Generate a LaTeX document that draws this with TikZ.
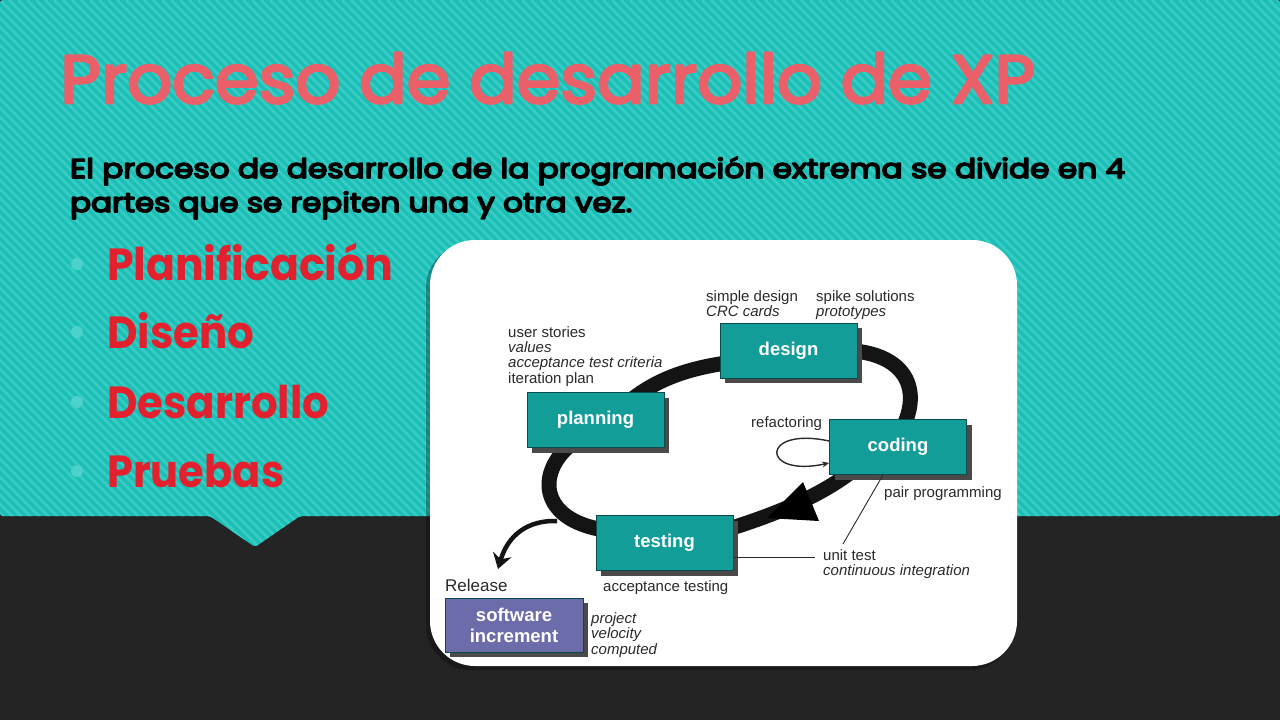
\documentclass[tikz,border=0pt]{standalone}
\usepackage{fontspec}
\setmainfont{Liberation Sans}
\newfontfamily\gothic{Poppins}
\usetikzlibrary{shadows,arrows.meta}
\definecolor{slideteal}{HTML}{1CBFB6}
\definecolor{stripec}{HTML}{38CCC4}
\definecolor{darkbg}{HTML}{242424}
\definecolor{titlec}{HTML}{EB5F69}
\definecolor{bulletc}{HTML}{E2202E}
\definecolor{dotc}{HTML}{4CD2CA}
\definecolor{boxteal}{HTML}{139D99}
\definecolor{boxline}{HTML}{0C4B49}
\definecolor{boxshadow}{HTML}{4A4A4A}
\definecolor{purplebox}{HTML}{6C6CAA}
\definecolor{lblc}{HTML}{2A2A2A}
\newlength\fitlen
\newcommand\fitw[2]{\settowidth\fitlen{#2}\pgfmathsetmacro\fitf{#1/\fitlen}\scalebox{\fitf}[1]{#2}}
\newcommand\strk[2]{\special{pdf:literal direct #1 w 1 j 2 Tr}#2\special{pdf:literal direct 0 Tr}}
\begin{document}
\begin{tikzpicture}[x=1pt,y=-1pt,
  proc/.style={draw=boxline, line width=0.8pt, fill=boxteal, text=white,
    font=\bfseries\fontsize{18.5}{18.5}\selectfont, minimum width=137pt, minimum height=55pt, inner sep=0pt,
    drop shadow={shadow xshift=5pt, shadow yshift=-5pt, fill=boxshadow, opacity=1}},
  lbl/.style={anchor=base west, inner sep=0pt, font=\fontsize{15}{15}\selectfont, text=lblc},
  ilbl/.style={lbl, font=\itshape\fontsize{15}{15}\selectfont},
  band/.style={line width=15pt, black!92},
  thin/.style={line width=0.9pt, lblc},
  stripe/.style={stripec, line width=2.6pt},
  titlefont/.style={font=\gothic\fontsize{68}{68}\selectfont},
  subfont/.style={font=\gothic\fontsize{27}{27}\selectfont},
  bulletfont/.style={font=\gothic\bfseries\fontsize{45}{45}\selectfont},
]
\useasboundingbox (0,0) rectangle (1280,720);
% background
\fill[darkbg] (0,0) rectangle (1280,720);
\begin{scope}
  \clip[rounded corners=3pt] (0,0) -- (1280,0) -- (1280,516) -- (300,516) -- (255,547) -- (210,516) -- (0,516) -- cycle;
  \fill[slideteal] (0,0) rectangle (1280,720);
  \foreach \i in {-82,...,143} \draw[stripe] (\i*9,0) -- ++(720,720);
\end{scope}
% title
\node[titlefont, anchor=base west, inner sep=0pt, text=titlec] (title) at (60,103) {\strk{2.6}{\fitw{975pt}{Proceso de desarrollo de XP}}};
% subtitle
\node[subfont, anchor=base west, inner sep=0pt, text=black] (sub1) at (70,178) {\strk{1.5}{\fitw{1055pt}{El proceso de desarrollo de la programación extrema se divide en 4}}};
\node[subfont, anchor=base west, inner sep=0pt, text=black] (sub2) at (70,212) {\strk{1.5}{\fitw{562pt}{partes que se repiten una y otra vez.}}};
% bullets
\foreach \y/\w/\t/\n in {280/286/Planificación/b1, 348/147/Diseño/b2, 418/222/Desarrollo/b3, 487/177/Pruebas/b4}{
  \fill[dotc] (77,\y-16) circle (6pt);
  \node[bulletfont, anchor=base west, inner sep=0pt, text=bulletc] (\n) at (107,\y) {\fitw{\w pt}{\t}};
}
% white panel
\fill[black, opacity=0.3, rounded corners=45pt] (426,243) rectangle (1014,670);
\fill[white, rounded corners=45pt] (430,240) rectangle (1017,666);
% nodes (placed first so the band can refer to them)
\node[proc] (design) at (788.5,350.5) {design};
\node[proc] (planning) at (595.5,420) {planning};
\node[proc] (coding) at (898,447) {coding};
\node[proc] (testing) at (664.5,543) {testing};
\node[proc, fill=purplebox, minimum width=138pt, minimum height=54pt, align=center, font=\bfseries\fontsize{18.5}{21}\selectfont] (soft) at (514,625) {software\\increment};
% loop band
\draw[band] ([xshift=38pt,yshift=-6pt]planning.north) .. controls (660,378) and (690,368) .. ([xshift=10pt,yshift=-12pt]design.west);
\draw[band] ([xshift=-7pt]design.east) .. controls (907,355) and (921,390) .. ([xshift=5pt,yshift=-8pt]coding.north);
\draw[band] ([xshift=-38pt,yshift=10pt]coding.south) .. controls (830,490) and (790,510) .. ([xshift=-8pt,yshift=13pt]testing.east);
\draw[band] ([xshift=9pt,yshift=13pt]testing.west) .. controls (538,520) and (535,470) .. ([xshift=-20pt,yshift=7pt]planning.south);
\fill[black] (803,482) -- (819,521) -- (767,518) -- cycle;
% boxes drawn again on top of the band
\node[proc] (design2) at (design) {design};
\node[proc] (planning2) at (planning) {planning};
\node[proc] (coding2) at (coding) {coding};
\node[proc] (testing2) at (testing) {testing};
% labels
\node[lbl] (sd) at (706,301) {simple design};
\node[ilbl] (crc) at (706,316) {CRC cards};
\node[lbl] (spike) at (816,301) {spike solutions};
\node[ilbl] (proto) at (816,316) {prototypes};
\node[lbl] (us) at (508,337) {user stories};
\node[ilbl] (val) at (508,352) {values};
\node[ilbl] (atc) at (508,367) {acceptance test criteria};
\node[lbl] (ip) at (508,383) {iteration plan};
\node[lbl] (refac) at (751,427) {refactoring};
\node[lbl] (pair) at (884,497) {pair programming};
\node[lbl] (unit) at (823,560) {unit test};
\node[ilbl] (ci) at (823,575) {continuous integration};
\node[lbl] (acct) at (603,591) {acceptance testing};
\node[lbl, font=\fontsize{17}{17}\selectfont] (release) at (445,591) {Release};
\node[ilbl] (proj) at (591,623) {project};
\node[ilbl] (vel) at (591,638) {velocity};
\node[ilbl] (comp) at (591,654) {computed};
% release arrow
\coordinate (relstart) at (557,521);
\coordinate (relend) at (498,569);
\draw[line width=4.5pt, black!92, -{Stealth[length=15pt,width=19pt]}] (relstart) .. controls (528,520) and (508,535) .. (relend);
% refactoring loop
\draw[line width=1.4pt, lblc, -{Stealth[length=7pt,width=6pt]}] ([yshift=6pt]coding2.west) .. controls (760,426) and (760,478) .. ([yshift=-16pt]coding2.west);
% thin leader lines
\coordinate (ut) at (843,544);
\coordinate (ut2) at (815,557);
\draw[thin] ([xshift=-15pt]coding2.south) -- (ut);
\draw[thin] ([yshift=-14pt]testing2.east) -- (ut2);
\end{tikzpicture}
\end{document}
